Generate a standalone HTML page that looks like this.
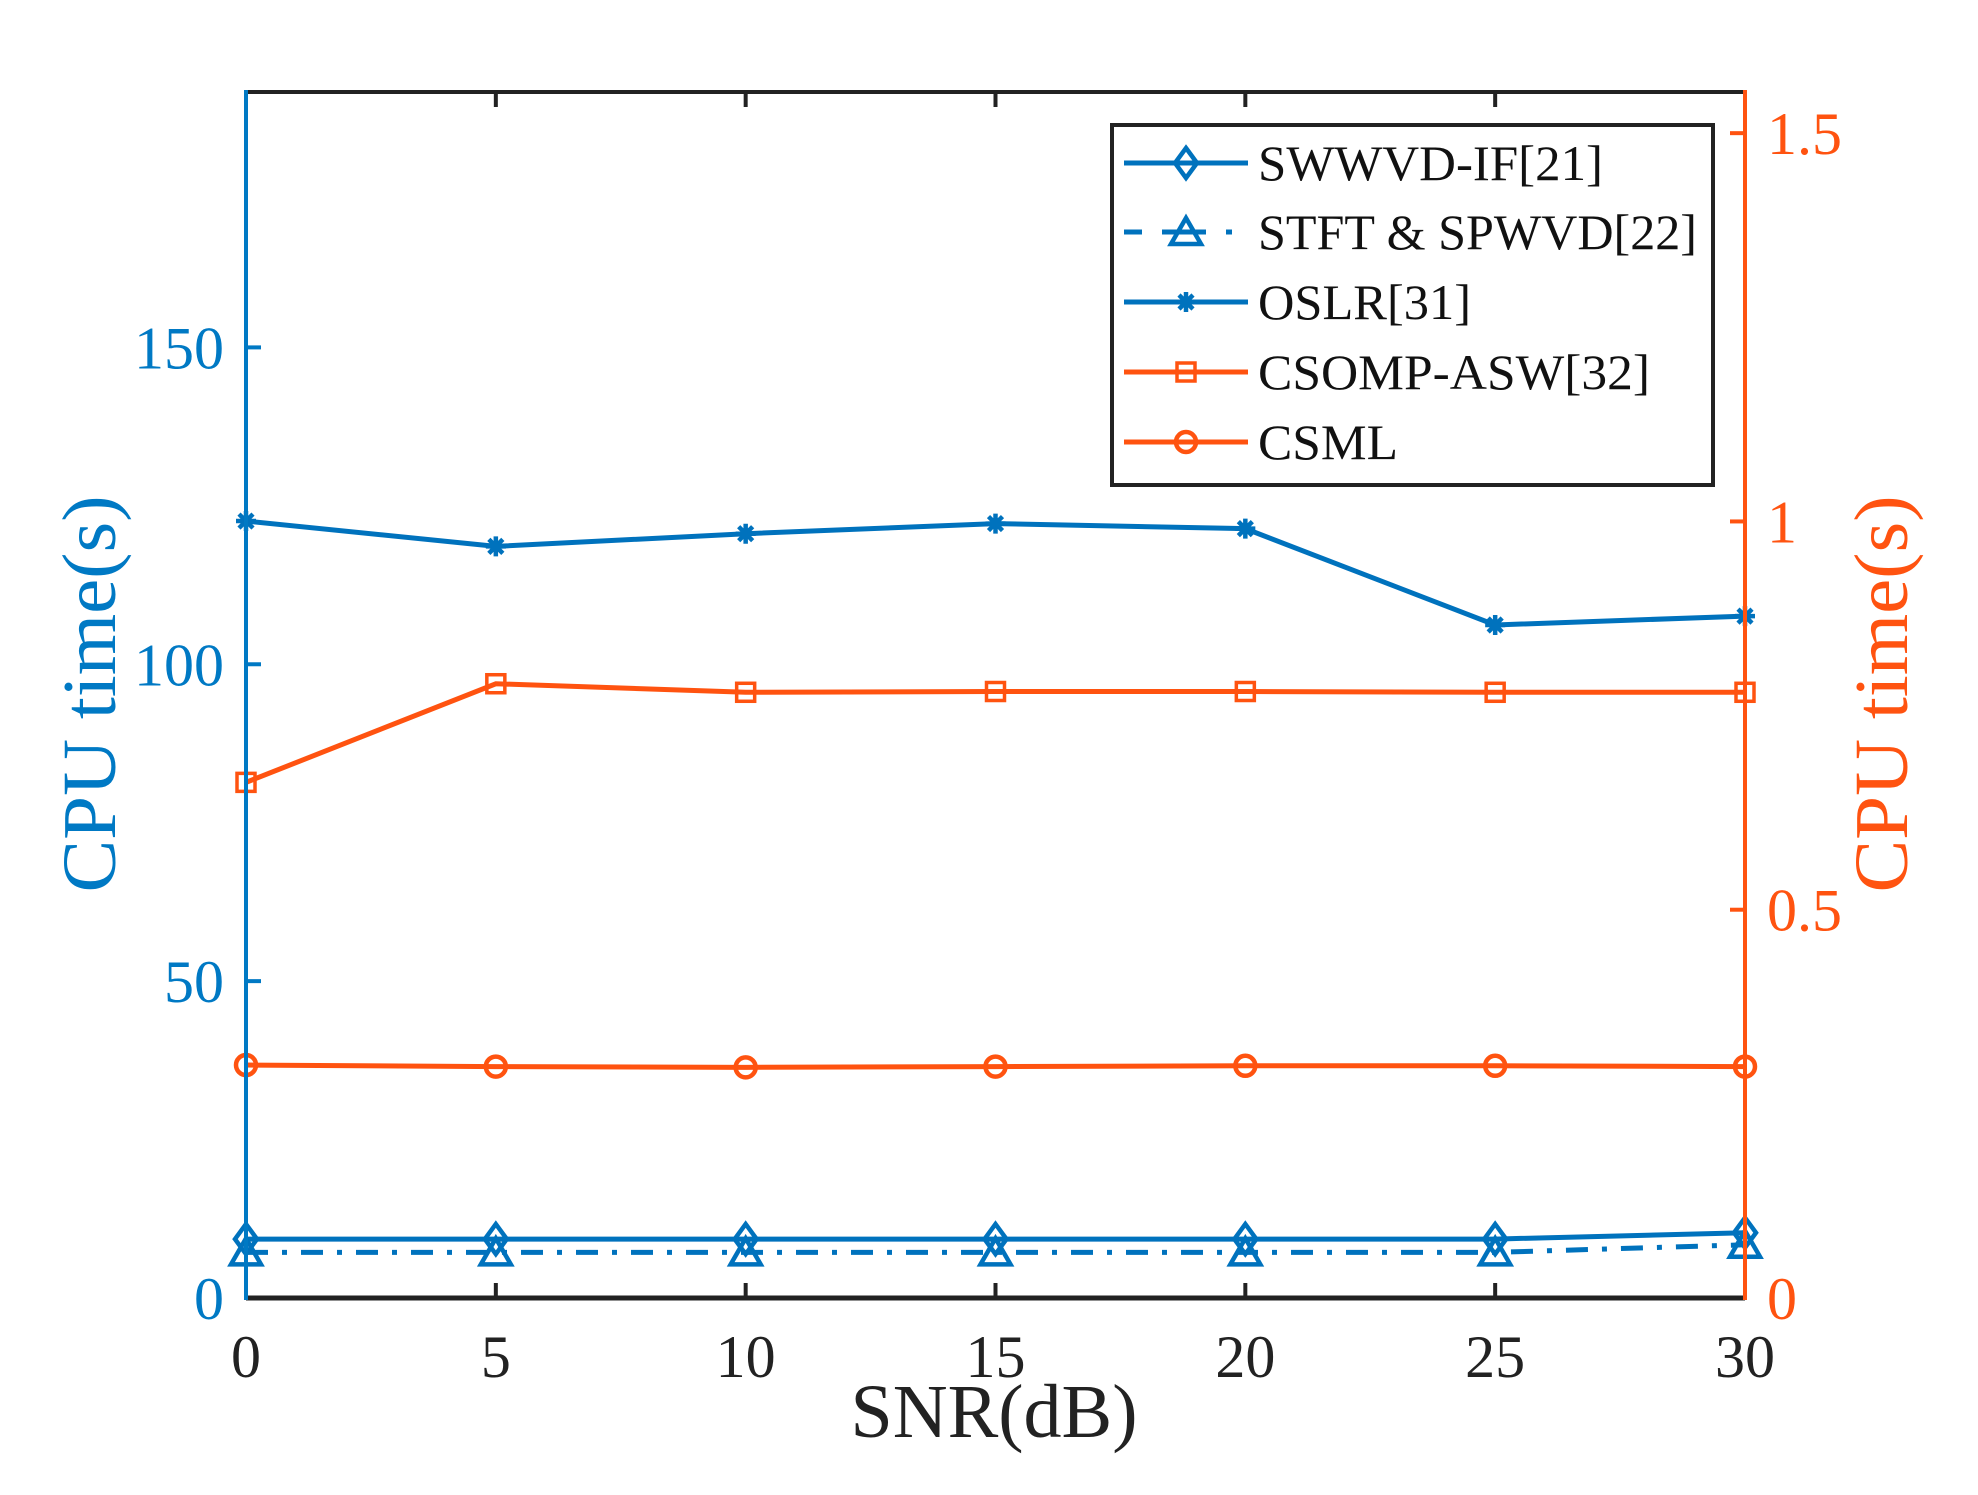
<!DOCTYPE html>
<html><head><meta charset="utf-8"><style>
html,body{margin:0;padding:0;background:#fff;}
svg{display:block;font-family:"Liberation Serif",serif;}
</style></head><body>
<svg id="chart" width="1978" height="1495" viewBox="0 0 1978 1495">
<rect width="1978" height="1495" fill="#fff"/>
<g id="plot"></g>
<g id="axes"></g>
<g id="legend"></g>
</svg>
<script>
const xValues = [0, 5, 10, 15, 20, 25, 30];
const xTicks = [0, 5, 10, 15, 20, 25, 30];
const leftTicks = [0, 50, 100, 150];
const rightTicks = [0, 0.5, 1, 1.5];
const rightTickLabels = ['0', '0.5', '1', '1.5'];
const swwvd = [9.3, 9.3, 9.3, 9.3, 9.3, 9.3, 10.3];
const stft = [7.2, 7.2, 7.2, 7.2, 7.2, 7.2, 8.4];
const oslr = [122.6, 118.6, 120.6, 122.2, 121.4, 106.2, 107.6];
const csomp = [0.664, 0.791, 0.780, 0.781, 0.781, 0.780, 0.780];
const csml = [0.300, 0.298, 0.297, 0.298, 0.299, 0.299, 0.298];

const NS = 'http://www.w3.org/2000/svg';
const X0 = 246, X1 = 1745, Y0 = 1298, YT = 92;
const LMAX = 190.3, RMAX = 1.553;
const BLUE = '#0072BD', ORANGE = '#FF5310', BLUET = '#0079C4';
function sx(v){ return X0 + (v - 0) / 30 * (X1 - X0); }
function syL(v){ return Y0 - v / LMAX * (Y0 - YT); }
function syR(v){ return Y0 - v / RMAX * (Y0 - YT); }
function mk(tag, attrs, parent){
  const e = document.createElementNS(NS, tag);
  for (const k in attrs) e.setAttribute(k, attrs[k]);
  parent.appendChild(e); return e;
}
const plot = document.getElementById('plot');
const axes = document.getElementById('axes');
const legend = document.getElementById('legend');

function marker(type, x, y, color, parent){
  let e;
  if (type === 'diamond') {
    e = mk('polygon', {points: `${x},${y-15} ${x+11},${y} ${x},${y+15} ${x-11},${y}`, fill:'none', stroke:color, 'stroke-width':4.5}, parent);
  } else if (type === 'triangle') {
    e = mk('polygon', {points: `${x},${y-14} ${x+15},${y+12} ${x-15},${y+12}`, fill:'none', stroke:color, 'stroke-width':4.5}, parent);
  } else if (type === 'star') {
    e = mk('path', {d:`M${x-10},${y}H${x+10}M${x},${y-10}V${y+10}M${x-7},${y-7}L${x+7},${y+7}M${x-7},${y+7}L${x+7},${y-7}`, stroke:color, 'stroke-width':4.5}, parent);
  } else if (type === 'square') {
    e = mk('rect', {x:x-9, y:y-9, width:18, height:18, fill:'none', stroke:color, 'stroke-width':3.5}, parent);
  } else {
    e = mk('circle', {cx:x, cy:y, r:10, fill:'none', stroke:color, 'stroke-width':4.5}, parent);
  }
  
  
  return e;
}

const series = [
  {name:'swwvd-if-series', label:'SWWVD-IF[21]', data:swwvd, sy:syL, color:BLUE, m:'diamond', dash:null},
  {name:'stft-spwvd-series', label:'STFT & SPWVD[22]', data:stft, sy:syL, color:BLUE, m:'triangle', dash:'22 14 5 14'},
  {name:'oslr-series', label:'OSLR[31]', data:oslr, sy:syL, color:BLUE, m:'star', dash:null},
  {name:'csomp-asw-series', label:'CSOMP-ASW[32]', data:csomp, sy:syR, color:ORANGE, m:'square', dash:null},
  {name:'csml-series', label:'CSML', data:csml, sy:syR, color:ORANGE, m:'circle', dash:null}
];

series.forEach(s => {
  const g = mk('g', {}, plot);
  
  
  const pts = s.data.map((v,i) => `${sx(xValues[i])},${s.sy(v)}`).join(' ');
  const line = mk('polyline', {points: pts, fill:'none', stroke:s.color, 'stroke-width':5}, g);
  if (s.dash) line.setAttribute('stroke-dasharray', s.dash);
  
  
  s.data.forEach((v,i) => marker(s.m, sx(xValues[i]), s.sy(v), s.color, g));
});

function ln(x1,y1,x2,y2,c,w,name){
  const e = mk('line', {x1,y1,x2,y2,stroke:c,'stroke-width':w}, axes);
  
  
  return e;
}
ln(X0, YT, X1, YT, '#222', 4, 'top-axis-line');
ln(X0, Y0, X1, Y0, '#222', 5, 'x-axis-line');
ln(X0, YT-2, X0, Y0+2, BLUET, 4, 'left-y-axis-line');
ln(X1, YT-2, X1, Y0+2, ORANGE, 4, 'right-y-axis-line');

function txt(x,y,s,attrs,name){
  const e = mk('text', Object.assign({x,y}, attrs), axes);
  e.textContent = s;
  
  
  return e;
}
xTicks.forEach(v => {
  const x = sx(v);
  if (v !== 0 && v !== 30) {
    ln(x, Y0, x, Y0-15, '#222', 4, 'x-tick');
    ln(x, YT, x, YT+15, '#222', 4, 'x-tick-top');
  }
  txt(x, 1377, String(v), {'font-size':60, fill:'#222', 'text-anchor':'middle'}, 'x-tick-label');
});
leftTicks.forEach(v => {
  const y = syL(v);
  if (v !== 0) ln(X0, y, X0+15, y, BLUET, 4, 'left-y-tick');
  txt(224, y+21, String(v), {'font-size':60, fill:BLUET, 'text-anchor':'end'}, 'left-y-tick-label');
});
rightTicks.forEach((v,i) => {
  const y = syR(v);
  if (v !== 0) ln(X1, y, X1-15, y, ORANGE, 4, 'right-y-tick');
  txt(1767, y+21, rightTickLabels[i], {'font-size':60, fill:ORANGE, 'text-anchor':'start'}, 'right-y-tick-label');
});
txt(994, 1437, 'SNR(dB)', {'font-size':76, fill:'#222', 'text-anchor':'middle', textLength:287, lengthAdjust:'spacingAndGlyphs'}, 'x-axis-title');
txt(0, 0, 'CPU time(s)', {'font-size':76, fill:BLUET, 'text-anchor':'middle', textLength:397, lengthAdjust:'spacingAndGlyphs', transform:'translate(115,694) rotate(-90)'}, 'left-y-axis-title');
txt(0, 0, 'CPU time(s)', {'font-size':76, fill:ORANGE, 'text-anchor':'middle', textLength:397, lengthAdjust:'spacingAndGlyphs', transform:'translate(1907,694) rotate(-90)'}, 'right-y-axis-title');

const lb = mk('rect', {x:1112, y:125, width:601, height:360, fill:'#fff', stroke:'#222', 'stroke-width':4}, legend);


const ly = [163, 232, 302, 372, 442];
const lw = [345, 439, 213, 392, 140];
series.forEach((s,i) => {
  const g = mk('g', {}, legend);
  
  
  const l = mk('line', {x1:1124, y1:ly[i], x2:1248, y2:ly[i], stroke:s.color, 'stroke-width':5}, g);
  if (s.dash) l.setAttribute('stroke-dasharray', '18 20 44 20 6');
  
  
  marker(s.m, 1186, ly[i], s.color, g);
  const t = mk('text', {x:1258, y:ly[i]+17, 'font-size':50, fill:'#111', textLength:lw[i], lengthAdjust:'spacingAndGlyphs'}, g);
  t.textContent = s.label;
  
  
});
</script>
</body></html>
